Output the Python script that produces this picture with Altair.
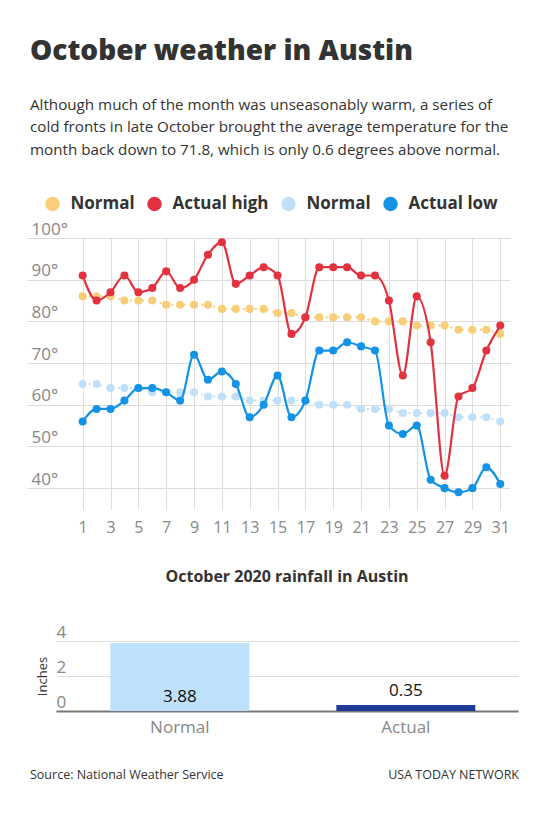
import altair as alt
import pandas as pd

FONT = "Open Sans"

# ---- data -------------------------------------------------------------
days = list(range(1, 32))
actual_high = [91, 85, 87, 91, 87, 88, 92, 88, 90, 96, 99, 89, 91, 93, 91, 77,
               81, 93, 93, 93, 91, 91, 85, 67, 86, 75, 43, 62, 64, 73, 79]
normal_high = [86, 86, 86, 85, 85, 85, 84, 84, 84, 84, 83, 83, 83, 83, 82, 82,
               81, 81, 81, 81, 81, 80, 80, 80, 79, 79, 79, 78, 78, 78, 77]
actual_low = [56, 59, 59, 61, 64, 64, 63, 61, 72, 66, 68, 65, 57, 60, 67, 57,
              61, 73, 73, 75, 74, 73, 55, 53, 55, 42, 40, 39, 40, 45, 41]
normal_low = [65, 65, 64, 64, 64, 63, 63, 63, 63, 62, 62, 62, 61, 61, 61, 61,
              61, 60, 60, 60, 59, 59, 59, 58, 58, 58, 58, 57, 57, 57, 56]

series_names = ["Normal high", "Actual high", "Normal low", "Actual low"]
legend_labels = ["Normal", "Actual high", "Normal", "Actual low"]
series_colors = ["#f8cf78", "#e2323f", "#bfe0f8", "#1492e6"]

rain_labels = ["Normal", "Actual"]
rain_values = [3.88, 0.35]
rain_colors = ["#bde0fb", "#1d3b95"]

footer_labels = ["Source: National Weather Service", "USA TODAY NETWORK"]
footer_sides = ["left", "right"]

title_text = "October weather in Austin"
subtitle_lines = [
    "Although much of the month was unseasonably warm, a series of",
    "cold fronts in late October brought the average temperature for the",
    "month back down to 71.8, which is only 0.6 degrees above normal.",
]
rain_title = "October 2020 rainfall in Austin"

# ---- tables -----------------------------------------------------------
rows = []
for name, vals in zip(series_names, [normal_high, actual_high, normal_low, actual_low]):
    for d, v in zip(days, vals):
        rows.append({"day": d, "temp": v, "series": name, "line_series": name,
                     "kind": "normal" if name.startswith("Normal") else "actual"})
temps = pd.DataFrame(rows)
rain = pd.DataFrame({"label": rain_labels, "inches": rain_values})
footer = pd.DataFrame({"text": footer_labels, "side": footer_sides})

series_scale = alt.Scale(domain=series_names, range=series_colors)


def empty_spacer(w):
    return alt.Chart(pd.DataFrame({"s": [""]})).mark_text().encode(
        text="s:N").properties(width=w, height=10)


# ---- legend row (built from small charts) -----------------------------
legend_items = []
for name, label in zip(series_names, legend_labels):
    item_data = pd.DataFrame({"series": [name], "label": [label]})
    dot = alt.Chart(item_data).mark_circle(size=210, opacity=1).encode(
        color=alt.Color("series:N", scale=series_scale, legend=None))
    txt = alt.Chart(item_data).mark_text(
        align="left", baseline="middle", dx=18, fontSize=17, font=FONT,
        fontWeight="bold", color="#333333").encode(text="label:N")
    legend_items.append(alt.layer(dot, txt).properties(width=15, height=18))
legend_row = alt.hconcat(empty_spacer(6), *legend_items, spacing=12)

# ---- line chart -------------------------------------------------------
x_enc = alt.X("day:Q",
              scale=alt.Scale(domain=[-3, 31.7], nice=False, zero=False),
              axis=alt.Axis(values=list(range(1, 32, 2)), grid=True, domain=False,
                            ticks=False, labelFontSize=16, labelColor="#888888",
                            labelPadding=10, title=None, labelFont=FONT,
                            gridColor="#dddddd", labelOverlap=False))
y_enc = alt.Y("temp:Q",
              scale=alt.Scale(domain=[35, 100], nice=False, zero=False),
              axis=alt.Axis(values=list(range(40, 101, 10)), grid=True, domain=False,
                            ticks=False, labelAlign="left", labelBaseline="alphabetic",
                            labelOffset=-4, labelPadding=-4, labelFontSize=17,
                            labelColor="#888888", labelExpr="datum.value + '°'",
                            title=None, labelFont=FONT, gridColor="#dddddd",
                            labelOverlap=False))
stroke_enc = alt.Stroke("line_series:N", scale=series_scale, legend=None)
color_enc = alt.Color("series:N", scale=series_scale, legend=None)

base = alt.Chart(temps)
normal_lines = base.transform_filter("datum.kind == 'normal'").mark_line(
    strokeWidth=2, strokeDash=[2, 4]).encode(x=x_enc, y=y_enc, stroke=stroke_enc)
normal_pts = base.transform_filter("datum.kind == 'normal'").mark_circle(
    size=65, opacity=1).encode(x=x_enc, y=y_enc, color=color_enc)
actual_lines = base.transform_filter("datum.kind == 'actual'").mark_line(
    strokeWidth=2.2, interpolate="monotone").encode(x=x_enc, y=y_enc, stroke=stroke_enc)
actual_pts = base.transform_filter("datum.kind == 'actual'").mark_circle(
    size=65, opacity=1).encode(x=x_enc, y=y_enc, color=color_enc)

line_chart = alt.layer(normal_lines, normal_pts, actual_lines, actual_pts).properties(
    width=483, height=271)

# ---- bar chart --------------------------------------------------------
bar_y_axis = alt.Axis(values=[0, 2, 4], grid=True, domain=False, ticks=False,
                      labelAlign="left", labelBaseline="alphabetic", labelOffset=-4,
                      labelPadding=0, labelFontSize=17, labelColor="#888888",
                      labelFont=FONT, gridColor="#dddddd", labelOverlap=False,
                      title="Inches", titleFont=FONT, titleFontSize=13,
                      titleFontWeight="normal", titleColor="#333333",
                      titleX=-14, titleY=35, titleAngle=270,
                      titleAlign="center", titleBaseline="middle")
bar_x_axis = alt.Axis(title=None, ticks=False, domain=True, domainColor="#777777",
                      domainWidth=2, labelFontSize=17, labelColor="#888888",
                      labelPadding=8, labelAngle=0, labelFont=FONT)
bar_x_scale = alt.Scale(paddingInner=0.385, paddingOuter=0.2146, align=0.56)
bar_y_scale = alt.Scale(domain=[0, 4], nice=False)

bars = alt.Chart(rain).mark_bar().encode(
    x=alt.X("label:N", sort=rain_labels, scale=bar_x_scale, axis=bar_x_axis),
    y=alt.Y("inches:Q", scale=bar_y_scale, axis=bar_y_axis),
    fill=alt.Fill("label:N", scale=alt.Scale(domain=rain_labels, range=rain_colors),
                  legend=None))
bar_text = alt.Chart(rain).transform_calculate(
    pos="datum.inches < 1 ? datum.inches : 0").mark_text(
    baseline="bottom", dy=-5, fontSize=17, color="#111111", font=FONT).encode(
    x=alt.X("label:N", sort=rain_labels, scale=bar_x_scale, axis=bar_x_axis),
    y=alt.Y("pos:Q", scale=bar_y_scale, axis=bar_y_axis),
    text=alt.Text("inches:Q", format=".2f"))
bar_chart = alt.layer(bars, bar_text).properties(
    width=462, height=70,
    title=alt.Title(rain_title, anchor="middle", fontSize=16, font=FONT,
                    fontWeight="bold", color="#333333", offset=38))

bar_row = alt.hconcat(empty_spacer(9), bar_chart, spacing=0)

# ---- footer -----------------------------------------------------------
fx = alt.X("side:N", scale=alt.Scale(domain=footer_sides, padding=0), axis=None)
foot_left = alt.Chart(footer).transform_filter("datum.side == 'left'").mark_text(
    align="left", baseline="middle", fontSize=12.5, color="#333333", font=FONT, dx=3
).encode(x=fx, text="text:N")
foot_right = alt.Chart(footer).transform_filter("datum.side == 'right'").mark_text(
    align="right", baseline="middle", fontSize=12.5, color="#333333", font=FONT
).encode(x=fx, text="text:N")
footer_chart = alt.layer(foot_left, foot_right).properties(width=492, height=14)

top_block = alt.vconcat(legend_row, line_chart, spacing=7)
bottom_block = alt.vconcat(bar_row, footer_chart, spacing=33)

chart = alt.vconcat(top_block, bottom_block, spacing=34).properties(
    title=alt.Title(title_text, subtitle=subtitle_lines, anchor="start",
                    fontSize=28, font=FONT, fontWeight=800, color="#333333",
                    subtitleFont=FONT, subtitleFontSize=15.2, subtitleColor="#333333",
                    subtitleLineHeight=22.5, subtitlePadding=32, offset=36, dx=3),
    padding={"left": 19, "top": 29, "right": 10, "bottom": 10},
).configure_view(stroke=None)

chart.save("out.html", embed_options={"renderer": "svg", "actions": False})
